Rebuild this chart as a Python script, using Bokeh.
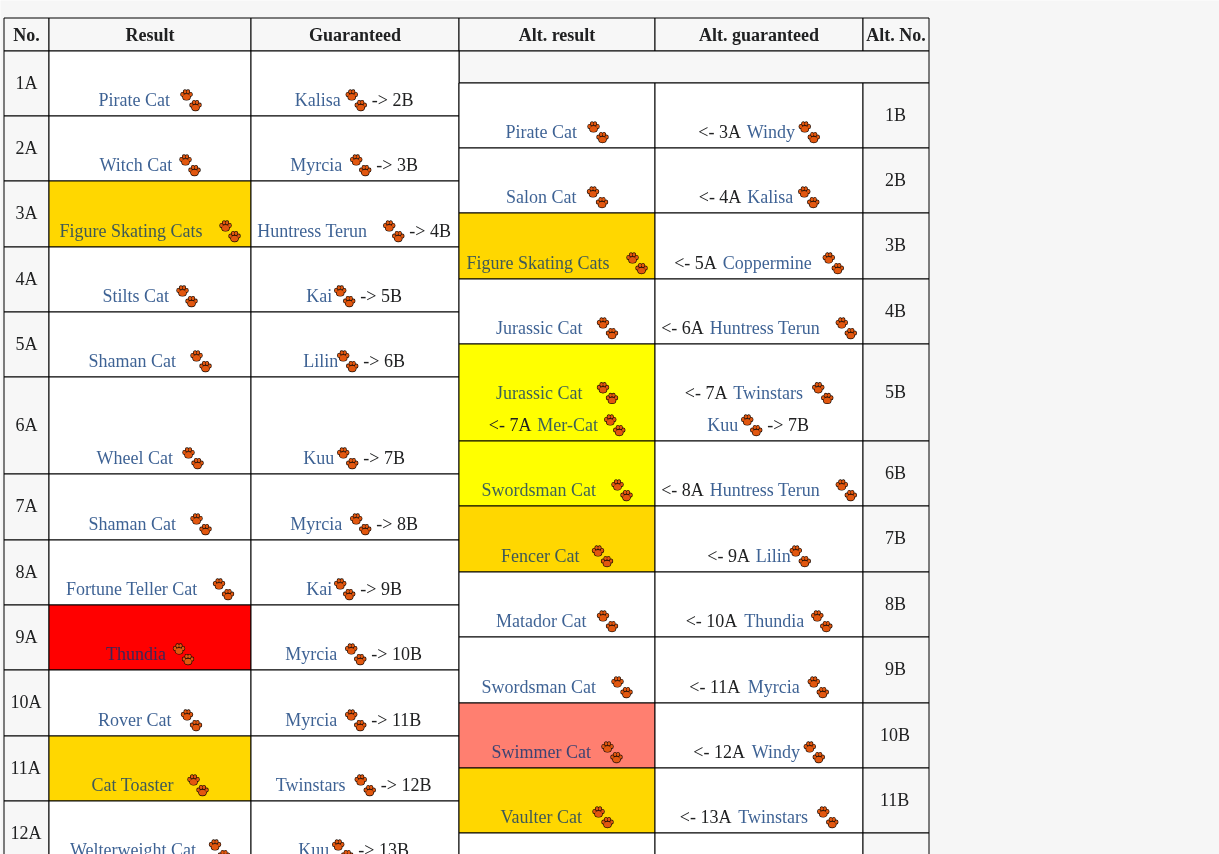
import math, re
from bokeh.plotting import figure
from bokeh.embed import file_html
from bokeh.resources import INLINE

# ---- table content; [x] = link, * = paw icon ----
headers = ["No.", "Result", "Guaranteed", "Alt. result", "Alt. guaranteed", "Alt. No."]
a_numbers = ["1A","2A","3A","4A","5A","6A","7A","8A","9A","10A","11A","12A"]
a_results = ["[Pirate Cat]*","[Witch Cat]*","[Figure Skating Cats]*","[Stilts Cat]*","[Shaman Cat]*",
             "[Wheel Cat]*","[Shaman Cat]*","[Fortune Teller Cat]*","[Thundia]*","[Rover Cat]*",
             "[Cat Toaster]*","[Welterweight Cat]*"]
a_guaranteed = ["[Kalisa]* -> 2B","[Myrcia] * -> 3B","[Huntress Terun]* -> 4B","[Kai]* -> 5B","[Lilin]* -> 6B",
                "[Kuu]* -> 7B","[Myrcia] * -> 8B","[Kai]* -> 9B","[Myrcia] * -> 10B","[Myrcia] * -> 11B",
                "[Twinstars]* -> 12B","[Kuu]* -> 13B"]
a_colors = [None,None,"gold",None,None,None,None,None,"red",None,"gold",None]
a_lines = [2,2,2,2,2,3,2,2,2,2,2,2]

b_numbers = ["1B","2B","3B","4B","5B","6B","7B","8B","9B","10B","11B","12B"]
b_results = [["[Pirate Cat]*"],["[Salon Cat]*"],["[Figure Skating Cats]*"],["[Jurassic Cat]*"],
             ["[Jurassic Cat]*","<- 7A [Mer-Cat]*"],["[Swordsman Cat]*"],["[Fencer Cat]*"],["[Matador Cat]*"],
             ["[Swordsman Cat]*"],["[Swimmer Cat]*"],["[Vaulter Cat]*"],[]]
b_guaranteed = [["<- 3A [Windy]*"],["<- 4A [Kalisa]*"],["<- 5A [Coppermine]*"],["<- 6A [Huntress Terun]*"],
                ["<- 7A [Twinstars]*","[Kuu]* -> 7B"],["<- 8A [Huntress Terun]*"],["<- 9A [Lilin]*"],
                ["<- 10A [Thundia]*"],["<- 11A [Myrcia] *"],["<- 12A [Windy]*"],["<- 13A [Twinstars]*"],[]]
b_colors = [None,None,"gold",None,"yellow","yellow","gold",None,None,"salmon","gold",None]
b_lines = [2,2,2,2,3,2,2,2,2,2,2,2]

# ---- styling / layout ----
PAGE = "#f6f6f6"; HEAD = "#f7f7f7"
FILL = {None:"#ffffff","gold":"#ffd700","yellow":"#ffff00","red":"#ff0000","salmon":"#ff7f70"}
FONT = "'Liberation Sans', Arial, sans-serif"; FS = 18
COLX = [3.5,48.5,250.5,458.5,654.5,862.5,928.5]
TOP, HEAD_BOT, A_START, B_START = 17.5, 50.5, 50.0, 82.2
H2, H3 = 65.35, 97.0; LINE = 32.2; PAW_W = 23.0
BASE_UP = 16.0; NUM_DY = -1.0; HEAD_BASE = 34.0
AFM = {' ':278,'-':333,'<':584,'>':584,'A':667,'B':667,'C':722,'F':611,'H':722,'J':500,'K':667,'L':556,
       'M':833,'P':667,'R':722,'S':667,'T':611,'V':667,'W':944,'a':556,'b':556,'c':500,'d':556,'e':556,
       'f':278,'g':556,'h':556,'i':222,'j':222,'k':500,'l':222,'m':833,'n':556,'o':556,'p':556,'r':333,
       's':500,'t':278,'u':556,'v':500,'w':722,'x':500,'y':500,'z':500}
def tw(s):
    return sum(556 if c.isdigit() else AFM.get(c,556) for c in s)*FS/1000

p = figure(width=1219, height=854, x_range=(0,1219), y_range=(854,0), output_backend="svg",
           toolbar_location=None, background_fill_color=PAGE, border_fill_color=PAGE,
           min_border=0, outline_line_color=None, styles={"position":"fixed","left":"0","top":"0"})
p.axis.visible = False; p.grid.visible = False

def snap(y): return math.floor(y)+0.5

cells = dict(l=[],r=[],t=[],b=[],c=[])
def cell(l,r,t,b,c):
    cells["l"].append(l);cells["r"].append(r);cells["t"].append(t);cells["b"].append(b);cells["c"].append(c)

link = dict(x=[],y=[],text=[]); plain = dict(x=[],y=[],text=[]); paws=[]
def put(d,x,y,s): d["x"].append(x);d["y"].append(y);d["text"].append(s)

def layout(markup, xc, base):
    toks = re.findall(r"\[[^\]]*\]|\*|[^\[\*]+", markup)
    total = sum(PAW_W if t=="*" else tw(t.strip("[]")) for t in toks)
    x = xc-total/2
    for t in toks:
        if t=="*":
            paws.append((x,base)); x+=PAW_W
        elif t[0]=="[":
            put(link,x,base,t[1:-1]); x+=tw(t[1:-1])
        else:
            lead=len(t)-len(t.lstrip(" "))
            put(plain,x+tw(" "*lead),base,t.strip(" ")); x+=tw(t)

def mid(i): return (COLX[i]+COLX[i+1])/2

# header
for i,h in enumerate(headers):
    cell(COLX[i],COLX[i+1],TOP,HEAD_BOT,HEAD)
cell(COLX[3],COLX[6],HEAD_BOT,snap(B_START),HEAD)

# A side
y=A_START
for n,res,g,col,ln in zip(a_numbers,a_results,a_guaranteed,a_colors,a_lines):
    ny=y+(H3 if ln==3 else H2); t,b=snap(y),snap(ny)
    cell(COLX[0],COLX[1],t,b,HEAD); cell(COLX[1],COLX[2],t,b,FILL[col]); cell(COLX[2],COLX[3],t,b,"#ffffff")
    layout(res,mid(1),b-BASE_UP); layout(g,mid(2),b-BASE_UP)
    put(plain,mid(0)-tw(n)/2,(t+b)/2+NUM_DY,n)
    y=ny

# B side
y=B_START
for n,res,g,col,ln in zip(b_numbers,b_results,b_guaranteed,b_colors,b_lines):
    ny=y+(H3 if ln==3 else H2); t,b=snap(y),snap(ny)
    cell(COLX[3],COLX[4],t,b,FILL[col]); cell(COLX[4],COLX[5],t,b,"#ffffff"); cell(COLX[5],COLX[6],t,b,HEAD)
    for k,m in enumerate(res): layout(m,mid(3),b-BASE_UP-LINE*(len(res)-1-k))
    for k,m in enumerate(g): layout(m,mid(4),b-BASE_UP-LINE*(len(g)-1-k))
    put(plain,mid(5)-tw(n)/2,(t+b)/2+NUM_DY,n)
    y=ny

p.quad(left=cells["l"],right=cells["r"],top=cells["t"],bottom=cells["b"],fill_color=cells["c"],
       line_color="#000000",line_width=1)

tstyle=dict(text_font=FONT,text_font_size=f"{FS}px",text_baseline="alphabetic",text_align="left")
p.text(x=link["x"],y=link["y"],text=link["text"],text_color="#003073",text_alpha=0.76,**tstyle)
p.text(x=plain["x"],y=plain["y"],text=plain["text"],text_color="#202122",**tstyle)
p.text(x=[mid(i) for i in range(6)],y=[HEAD_BASE]*6,text=headers,text_color="#202122",text_font=FONT,
       text_font_size=f"{FS}px",text_font_style="bold",text_baseline="alphabetic",text_align="center")

# paw icons: two small paws after each link (offsets relative to the text baseline)
PAW_UP = (5.0, -5.6)
PARTS=[(0,2.0,7.2,5.8),(-4.1,-0.6,2.8,3.6),(-1.5,-3.2,2.8,3.6),(1.5,-3.2,2.8,3.6),(4.1,-0.6,2.8,3.6)]
ex,ey,ew,eh=[],[],[],[]
for x0,base in paws:
    for cx,cy in ((x0+8,base-PAW_UP[0]),(x0+17,base-PAW_UP[1])):
        for dx,dy,w,h in PARTS:
            ex.append(cx+dx);ey.append(cy+dy);ew.append(w);eh.append(h)
p.ellipse(x=ex,y=ey,width=ew,height=eh,fill_color="#1c0c04",line_color="#1c0c04",line_width=1.4)
p.ellipse(x=ex,y=ey,width=ew,height=eh,fill_color="#e2570f",line_color=None)

open("out.html","w").write(file_html(p,INLINE))
